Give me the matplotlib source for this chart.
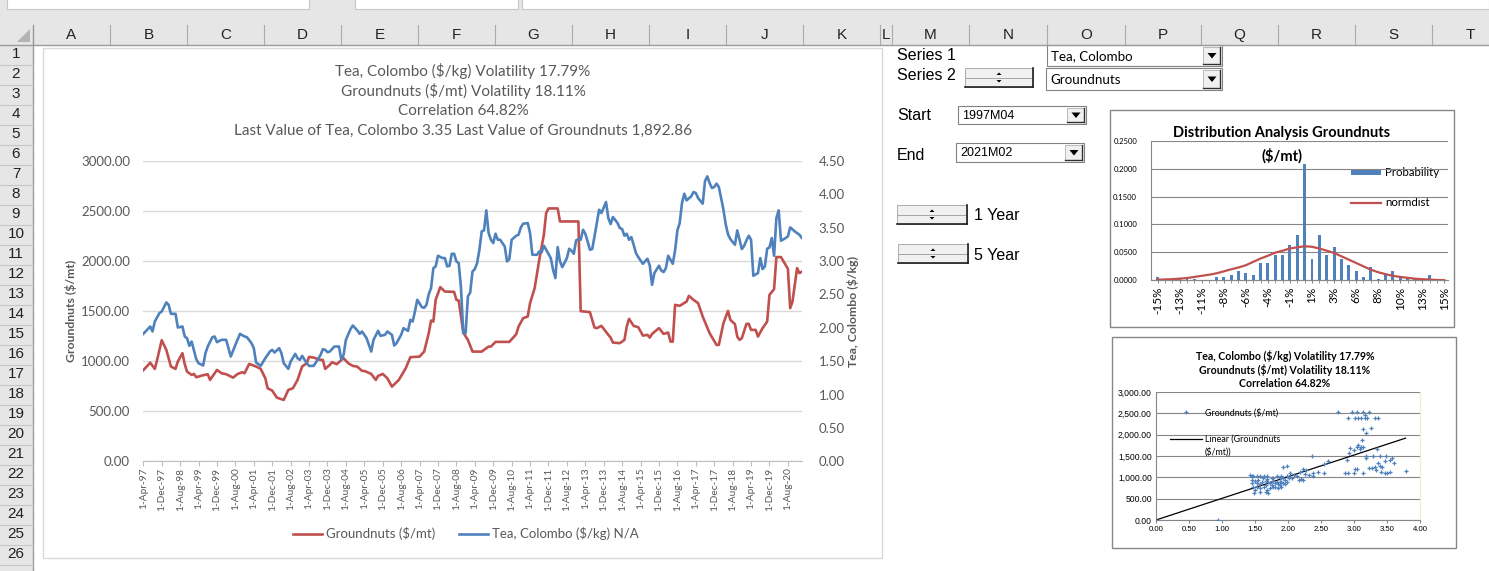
import numpy as np
import pandas as pd
import matplotlib
matplotlib.use('Agg')
import matplotlib.pyplot as plt
from matplotlib.patches import Rectangle, Polygon

W, H = 1489, 571
CAL = ['Lato', 'DejaVu Sans']
ARIAL = ['Liberation Sans', 'DejaVu Sans']
GTXT = '#595959'
RED = '#c0504d'
BLUE = '#4f81bd'

# ---- main chart (months after 1-Apr-1997) ----
gn_month = [0, 3, 5, 6, 8, 10, 12, 14, 15, 17, 18, 19, 21, 22, 23, 26, 28, 29, 30, 32,
            34, 36, 39, 41, 43, 44, 46, 49, 51, 53, 54, 56, 58, 61, 63, 65, 67, 69, 71, 72,
            74, 77, 78, 79, 81, 82, 84, 87, 89, 91, 93, 95, 96, 99, 101, 102, 104, 106, 108, 111,
            113, 114, 116, 120, 122, 124, 125, 126, 127, 129, 131, 135, 136, 137, 139, 141, 143, 147, 150, 151,
            153, 159, 162, 163, 165, 167, 168, 170, 172, 174, 175, 176, 180, 181, 189, 190, 194, 196, 197, 199,
            202, 203, 204, 207, 209, 210, 211, 213, 215, 217, 219, 220, 221, 224, 226, 228, 229, 230, 231, 233,
            236, 237, 239, 241, 243, 246, 249, 250, 252, 254, 255, 257, 258, 259, 260, 262, 263, 264, 266, 267,
            269, 271, 272, 274, 275, 277, 280, 281, 282, 284, 285, 286]
gn_value = [910, 985, 923, 1013, 1210, 1113, 947, 923, 997, 1080, 970, 896, 863, 873, 840, 860, 870, 813, 846, 913,
            880, 870, 836, 873, 890, 880, 973, 947, 923, 830, 730, 706, 636, 613, 713, 730, 813, 947, 980, 1043,
            1036, 1013, 1013, 923, 963, 990, 970, 1030, 980, 953, 945, 903, 903, 873, 813, 853, 873, 830, 746, 813,
            890, 930, 1040, 1046, 1096, 1280, 1406, 1396, 1613, 1740, 1696, 1693, 1613, 1606, 1286, 1213, 1096, 1096, 1146, 1146,
            1193, 1193, 1270, 1346, 1430, 1446, 1580, 1730, 2013, 2263, 2480, 2526, 2526, 2396, 2396, 1500, 1490, 1336, 1330, 1353,
            1263, 1236, 1186, 1180, 1213, 1346, 1423, 1353, 1340, 1256, 1263, 1236, 1273, 1330, 1273, 1286, 1196, 1196, 1563, 1553,
            1596, 1653, 1613, 1580, 1446, 1280, 1163, 1163, 1380, 1503, 1413, 1370, 1246, 1213, 1230, 1373, 1373, 1313, 1313, 1246,
            1330, 1396, 1663, 1720, 2040, 2040, 1923, 1530, 1596, 1930, 1880, 1893]

tea_month = [0, 3, 4, 5, 7, 8, 10, 11, 12, 14, 15, 17, 18, 19, 20, 21, 23, 24, 26, 27,
             28, 30, 31, 32, 34, 36, 38, 40, 42, 44, 45, 47, 48, 49, 51, 53, 55, 56, 57, 59,
             60, 61, 63, 64, 66, 67, 68, 69, 71, 72, 74, 76, 77, 78, 79, 80, 81, 83, 85, 86,
             87, 88, 90, 91, 93, 94, 95, 97, 99, 100, 102, 103, 105, 106, 108, 109, 110, 112, 113, 115,
             116, 117, 118, 119, 121, 122, 123, 124, 125, 126, 127, 128, 130, 131, 132, 133, 134, 135, 136, 137,
             138, 139, 140, 141, 142, 143, 144, 145, 146, 147, 148, 149, 150, 151, 152, 153, 154, 155, 157, 158,
             159, 160, 162, 163, 164, 165, 167, 168, 169, 171, 172, 173, 174, 175, 177, 178, 179, 180, 181, 182,
             184, 185, 186, 187, 188, 189, 190, 191, 192, 193, 194, 195, 196, 198, 199, 201, 202, 203, 204, 206,
             207, 208, 209, 210, 211, 212, 213, 214, 215, 217, 219, 220, 221, 222, 224, 225, 226, 227, 228, 230,
             231, 232, 233, 234, 235, 236, 238, 239, 240, 241, 243, 244, 245, 246, 247, 248, 249, 250, 251, 252,
             253, 254, 255, 257, 258, 259, 260, 261, 262, 263, 264, 265, 267, 268, 269, 270, 271, 272, 273, 274,
             275, 276, 277, 279, 280, 281, 283, 285, 286]
tea_value = [1.91, 2.02, 1.945, 2.095, 2.22, 2.245, 2.38, 2.345, 2.21, 2.21, 2.005, 2.02, 1.87, 1.845, 1.73, 1.795, 1.53, 1.47, 1.435, 1.62,
             1.72, 1.86, 1.87, 1.785, 1.82, 1.82, 1.57, 1.745, 1.91, 1.87, 1.86, 1.77, 1.695, 1.48, 1.43, 1.545, 1.645, 1.67, 1.63, 1.695,
             1.62, 1.47, 1.385, 1.495, 1.61, 1.545, 1.52, 1.58, 1.47, 1.43, 1.43, 1.535, 1.595, 1.68, 1.67, 1.635, 1.645, 1.72, 1.72, 1.52,
             1.595, 1.82, 1.98, 2.035, 1.96, 1.91, 1.945, 1.845, 1.645, 1.82, 1.955, 1.88, 1.895, 1.945, 1.895, 1.735, 1.77, 1.895, 1.995, 1.955,
             2.12, 2.095, 2.245, 2.42, 2.31, 2.30, 2.345, 2.505, 2.595, 2.895, 2.92, 3.08, 3.045, 3.045, 2.92, 2.93, 3.11, 3.11, 2.995, 2.97,
             2.6, 1.92, 1.92, 2.47, 2.53, 2.845, 2.88, 2.97, 3.17, 3.445, 3.46, 3.76, 3.42, 3.32, 3.27, 3.41, 3.32, 3.32, 3.22, 2.995,
             3.03, 3.32, 3.38, 3.395, 3.505, 3.56, 3.57, 3.42, 3.095, 3.095, 3.145, 3.13, 3.23, 3.17, 3.045, 2.87, 2.745, 3.21, 2.995, 2.91,
             3.045, 3.185, 3.155, 3.11, 3.31, 3.33, 3.32, 3.47, 3.41, 3.295, 3.17, 3.18, 3.37, 3.77, 3.72, 3.885, 3.645, 3.555, 3.66, 3.57,
             3.495, 3.48, 3.38, 3.41, 3.32, 3.36, 3.245, 3.12, 3.06, 2.96, 3.035, 2.935, 2.645, 2.82, 2.93, 2.86, 2.835, 2.895, 3.08, 2.96,
             3.16, 3.46, 3.57, 3.87, 4.01, 3.91, 3.97, 4.035, 4.02, 3.945, 3.86, 4.20, 4.27, 4.17, 4.095, 4.11, 4.16, 4.11, 3.945, 3.77,
             3.55, 3.40, 3.33, 3.245, 3.46, 3.32, 3.18, 3.23, 3.31, 3.38, 3.32, 2.78, 2.82, 3.045, 2.88, 2.92, 3.185, 3.205, 3.345, 3.08,
             3.645, 3.76, 3.305, 3.345, 3.37, 3.505, 3.445, 3.395, 3.35]

title_lines = ['Tea, Colombo ($/kg) Volatility 17.79%',
               'Groundnuts ($/mt) Volatility 18.11%',
               'Correlation 64.82%',
               'Last Value of Tea, Colombo 3.35 Last Value of Groundnuts 1,892.86']

tick_dates = pd.date_range('1997-04-01', '2020-08-01', freq='8MS')
tick_labels = ['1-' + d.strftime('%b-%y') for d in tick_dates]
tick_pos = [(d.year - 1997) * 12 + d.month - 4 for d in tick_dates]

# ---- distribution chart ----
bin_labels = ['-15%', '-13%', '-11%', '-8%', '-6%', '-4%', '-1%',
              '1%', '3%', '6%', '8%', '10%', '13%', '15%']
probability = [0.0054, 0, 0, 0.002, 0.003, 0.003, 0, 0, 0.006, 0.006,
               0.010, 0.017, 0.013, 0.010, 0.031, 0.031, 0.045, 0.045, 0.063, 0.081,
               0.209, 0.038, 0.081, 0.045, 0.060, 0.038, 0.027, 0.017, 0.006, 0.024,
               0.003, 0.010, 0.017, 0.006, 0.006, 0.003, 0, 0.010, 0.003, 0]
normdist = [0.001, 0.0015, 0.002, 0.003, 0.004, 0.006, 0.008, 0.010, 0.0125, 0.016,
            0.0197, 0.023, 0.027, 0.033, 0.039, 0.044, 0.0495, 0.053, 0.057, 0.059,
            0.061, 0.060, 0.057, 0.053, 0.049, 0.043, 0.037, 0.031, 0.025, 0.019,
            0.0145, 0.011, 0.008, 0.006, 0.0045, 0.0028, 0.002, 0.0012, 0.0006, 0.0002]

# ---- scatter chart ----
sc_tea = [2.76, 2.97, 3.04, 3.13, 3.22, 2.91, 3.01, 3.06, 3.11, 3.16, 3.19, 3.32, 3.37, 3.16,
          3.14, 3.18, 3.25, 3.12, 2.94, 2.93, 3.00, 3.06, 3.10, 3.14, 3.09, 3.04,
          3.35, 3.18, 3.18, 3.29, 3.39, 3.48, 3.57, 3.55, 3.60, 3.47, 3.37, 3.39, 3.43, 3.32,
          3.27, 3.22, 3.34, 3.41, 3.50, 3.55, 3.47, 3.79, 3.14, 3.01, 3.05, 3.00, 2.86, 2.91, 2.90,
          2.37, 2.61, 2.55, 2.38, 2.55, 2.46, 2.28, 2.23, 2.18, 2.25, 2.32, 2.38, 2.13, 2.23, 2.20,
          2.06, 2.03, 1.93, 1.99, 2.09, 2.16,
          1.42, 1.45, 1.47, 1.53, 1.58, 1.63, 1.68, 1.45, 1.45, 1.47, 1.50, 1.48, 1.53, 1.57,
          1.60, 1.63, 1.58, 1.66, 1.68, 1.70, 1.73, 1.73, 1.75, 1.78, 1.80, 1.83, 1.85, 1.88,
          1.90, 1.90, 1.93, 1.95, 1.98, 2.01, 1.98, 1.88, 1.90, 1.83, 1.78, 1.70, 1.66, 1.55,
          1.50, 1.62, 1.68, 1.75, 1.80, 1.85, 1.66, 1.88, 1.93, 1.95, 1.78, 1.53, 1.58,
          0.0, 0.94]
sc_gn = [2530, 2530, 2530, 2530, 2530, 2390, 2390, 2390, 2390, 2390, 2390, 2390, 2390, 2470,
         2140, 2040, 2150, 1880, 1680, 1580, 1630, 1760, 1720, 1710, 1670, 1710,
         1660, 1500, 1450, 1500, 1500, 1500, 1450, 1410, 1330, 1390, 1330, 1270, 1250, 1240,
         1210, 1210, 1170, 1135, 1100, 1135, 1100, 1150, 1100, 1190, 1190, 1100, 1100, 1100, 1410,
         1490, 1390, 1320, 1100, 1100, 1135, 1170, 1190, 1135, 1080, 1060, 1030, 1020, 940, 955,
         980, 1100, 1240, 1270, 1060, 940,
         1060, 1020, 1020, 1020, 1020, 1020, 1020, 940, 860, 780, 705, 625, 860, 845,
         900, 780, 745, 820, 705, 625, 745, 860, 980, 980, 860, 900, 845, 820,
         780, 900, 860, 940, 900, 980, 1020, 980, 1030, 1020, 920, 900, 920, 940,
         920, 980, 955, 820, 780, 745, 665, 900, 980, 845, 780, 780, 665,
         0, 0]
trend_x = [0.0, 3.78]
trend_y = [0, 1918]
sc_title = ['Tea, Colombo ($/kg) Volatility 17.79%',
            'Groundnuts ($/mt) Volatility 18.11%',
            'Correlation 64.82%']

col_names = list('ABCDEFGHIJKLMNOPQRST')
col_edges = [33, 110, 187, 264, 341, 418, 495, 572, 649, 726, 803, 880,
             892, 969, 1047, 1125, 1201, 1278, 1355, 1432, 1509]


fig = plt.figure(figsize=(W / 100, H / 100), dpi=100)
bg = fig.add_axes([0, 0, 1, 1])
bg.set_xlim(0, W)
bg.set_ylim(H, 0)
bg.axis('off')


def px_axes(x0, y0, x1, y1):
    a = fig.add_axes([x0 / W, 1 - y1 / H, (x1 - x0) / W, (y1 - y0) / H])
    a.patch.set_alpha(0)
    return a


def rect(x0, y0, x1, y1, **kw):
    bg.add_patch(Rectangle((x0, y0), x1 - x0, y1 - y0, **kw))


# ---- excel frame ----
rect(0, 0, W, 44.5, fc='#e6e6e6', ec='none')
rect(0, 44.5, 33, H, fc='#e6e6e6', ec='none')
for a, b in [(7, 309), (355, 518), (522, 1489)]:
    rect(a, -2, b, 9, fc='white', ec='#c6c6c6', lw=0.8)
for x in col_edges:
    bg.plot([x, x], [25, 44.5], color='#ababab', lw=0.8)
for i, name in enumerate(col_names):
    bg.text((col_edges[i] + col_edges[i + 1]) / 2, 35, name, ha='center', va='center',
            fontsize=11, family=ARIAL, color='#222222')
bg.plot([0, W], [44.5, 44.5], color='#9b9b9b', lw=1)
bg.plot([33, 33], [25, H], color='#9b9b9b', lw=1)
bg.add_patch(Polygon([(30, 29), (30, 42), (17, 42)], closed=True, fc='#b4b4b4', ec='none'))
for r in range(1, 28):
    y = 44.5 + 20 * r
    bg.plot([0, 33], [y, y], color='#c6c6c6', lw=0.8)
    if r < 27:
        bg.text(16, y - 10, str(r), ha='center', va='center', fontsize=11, family=ARIAL, color='#222222')

# ---- main chart ----
rect(43, 48, 882, 558, fc='white', ec='#d9d9d9', lw=1)
for i, t in enumerate(title_lines):
    bg.text(463, 71 + 20 * i, t, ha='center', va='center', fontsize=11, family=CAL, color=GTXT)

ax1 = px_axes(143.3, 161, 801.7, 461.3)
ax1.plot(gn_month, gn_value, color=RED, lw=1.9, label='Groundnuts ($/mt)')
ax1.set_xlim(0, 286)
ax1.set_ylim(0, 3000)
ax1.set_yticks(np.arange(0, 3001, 500))
ax1.set_yticklabels(['%.2f' % v for v in np.arange(0, 3001, 500)])
ax1.set_xticks(tick_pos)
ax1.set_xticklabels(tick_labels, rotation=90)
ax1.grid(axis='y', color='#d9d9d9', lw=1)
ax1.set_axisbelow(True)
for s in ['top', 'right', 'left']:
    ax1.spines[s].set_visible(False)
ax1.spines['bottom'].set_color('#bfbfbf')
ax1.tick_params(axis='y', length=0, pad=9.5, labelsize=9.5, labelcolor=GTXT)
ax1.tick_params(axis='x', length=3.5, color='#bfbfbf', pad=1, labelsize=7.3, labelcolor=GTXT)
for lab in ax1.get_xticklabels() + ax1.get_yticklabels():
    lab.set_family(CAL)

ax2 = ax1.twinx()
ax2.plot(tea_month, tea_value, color=BLUE, lw=1.9, label='Tea, Colombo ($/kg) N/A')
ax2.set_ylim(0, 4.5)
ax2.set_yticks(np.arange(0, 4.51, 0.5))
ax2.set_yticklabels(['%.2f' % v for v in np.arange(0, 4.51, 0.5)])
for s in ['top', 'right', 'left', 'bottom']:
    ax2.spines[s].set_visible(False)
ax2.tick_params(axis='y', length=0, pad=12, labelsize=9.5, labelcolor=GTXT)
for lab in ax2.get_yticklabels():
    lab.set_family(CAL)

bg.text(71, 311, 'Groundnuts ($/mt)', rotation=90, ha='center', va='center',
        fontsize=8.8, fontweight='bold', family=CAL, color=GTXT)
bg.text(853, 311, 'Tea, Colombo ($/kg)', rotation=90, ha='center', va='center',
        fontsize=8.8, fontweight='bold', family=CAL, color=GTXT)

h1, l1 = ax1.get_legend_handles_labels()
h2, l2 = ax2.get_legend_handles_labels()
leg = fig.legend(h1 + h2, l1 + l2, loc='center', bbox_to_anchor=(466 / W, 1 - 534 / H),
                 ncol=2, frameon=False, handlelength=2.2, columnspacing=1.8, handletextpad=0.3,
                 prop={'family': CAL, 'size': 9.5})
for t in leg.get_texts():
    t.set_color(GTXT)

# ---- controls ----
def spinner(x0, y0, x1, y1):
    ym = (y0 + y1) / 2
    rect(x0, y0, x1, ym, fc='#f0f0f0', ec='#a0a0a0', lw=0.6)
    rect(x0, ym, x1, y1, fc='#f0f0f0', ec='#a0a0a0', lw=0.6)
    bg.plot([x0, x1], [y1, y1], color='#202020', lw=1.2)
    bg.plot([x1, x1], [y0, y1], color='#202020', lw=1.2)
    cx = (x0 + x1) / 2
    bg.add_patch(Polygon([(cx - 2.5, ym - 2.5), (cx + 2.5, ym - 2.5), (cx, ym - 5)], fc='black', ec='none'))
    bg.add_patch(Polygon([(cx - 2.5, ym + 2.5), (cx + 2.5, ym + 2.5), (cx, ym + 5)], fc='black', ec='none'))


def dropdown(x0, y0, x1, y1, text, fam, size):
    rect(x0, y0, x1, y1, fc='white', ec='#828282', lw=0.8)
    b0 = x1 - 20
    rect(b0 + 1, y0 + 2, x1 - 2, y1 - 2, fc='#f0f0f0', ec='#b0b0b0', lw=0.6)
    bg.plot([b0 + 1, x1 - 2], [y1 - 2, y1 - 2], color='#303030', lw=1)
    bg.plot([x1 - 2, x1 - 2], [y0 + 2, y1 - 2], color='#303030', lw=1)
    cx, cy = (b0 + x1) / 2, (y0 + y1) / 2
    bg.add_patch(Polygon([(cx - 4.5, cy - 2.5), (cx + 4.5, cy - 2.5), (cx, cy + 3)], fc='black', ec='none'))
    bg.text(x0 + 4, cy + 1, text, ha='left', va='center', fontsize=size, family=fam, color='black')


bg.text(897, 56, 'Series 1', ha='left', va='center', fontsize=11.5, family=ARIAL)
bg.text(897, 76, 'Series 2', ha='left', va='center', fontsize=11.5, family=ARIAL)
spinner(965, 68, 1033, 87)
dropdown(1047, 45, 1222, 66, 'Tea, Colombo', CAL, 9.6)
dropdown(1046, 68, 1222, 90, 'Groundnuts', CAL, 9.6)
bg.text(897, 116, 'Start', ha='left', va='center', fontsize=11.5, family=ARIAL)
dropdown(958, 106, 1086, 124, '1997M04', ARIAL, 9)
bg.text(897, 155, 'End', ha='left', va='center', fontsize=11.5, family=ARIAL)
dropdown(956, 143, 1084, 162, '2021M02', ARIAL, 9)
spinner(897, 205, 967, 224)
bg.text(974, 215, '1 Year', ha='left', va='center', fontsize=11.5, family=ARIAL)
spinner(898, 244, 968, 263)
bg.text(974, 255, '5 Year', ha='left', va='center', fontsize=11.5, family=ARIAL)

# ---- distribution chart ----
rect(1110, 110, 1454, 327, fc='white', ec='#868686', lw=1)
hx = px_axes(1151, 140.7, 1448, 280.3)
idx = np.arange(len(probability))
hx.bar(idx, probability, width=0.4, color=BLUE, zorder=2)
hx.plot(idx, normdist, color=RED, lw=1.6, zorder=3)
hx.set_xlim(-0.9, 39.5)
hx.set_ylim(0, 0.25)
hx.set_yticks(np.arange(0, 0.251, 0.05))
hx.set_yticklabels(['%.4f' % v for v in np.arange(0, 0.251, 0.05)])
hx.set_xticks(idx[::3])
hx.set_xticklabels(bin_labels, rotation=90)
hx.set_xticks(idx, minor=True)
hx.grid(axis='y', color='#868686', lw=0.8)
hx.set_axisbelow(True)
for s in ['top', 'right']:
    hx.spines[s].set_visible(False)
for s in ['left', 'bottom']:
    hx.spines[s].set_color('#868686')
hx.tick_params(axis='y', length=0, pad=10, labelsize=5.5, labelcolor='black')
hx.tick_params(axis='x', which='both', length=2.5, color='#868686', pad=2, labelsize=8.5)
for lab in hx.get_xticklabels() + hx.get_yticklabels():
    lab.set_family(CAL)
bg.text(1282, 133, 'Distribution Analysis Groundnuts', ha='center', va='center',
        fontsize=10.5, fontweight='bold', family=CAL)
bg.text(1282, 156, '($/mt)', ha='center', va='center', fontsize=10.5, fontweight='bold', family=CAL)
rect(1351, 169, 1381, 175, fc=BLUE, ec='none')
bg.text(1385, 172, 'Probability', ha='left', va='center', fontsize=8.3, family=CAL)
bg.plot([1351, 1381], [203, 203], color=RED, lw=1.6)
bg.text(1385, 203, 'normdist', ha='left', va='center', fontsize=8.3, family=CAL)

# ---- scatter chart ----
rect(1112, 337, 1456, 548, fc='white', ec='#868686', lw=1)
for i, t in enumerate(sc_title):
    bg.text(1285, 356 + 13.7 * i, t, ha='center', va='center', fontsize=7.6,
            fontweight='bold', family=CAL)
sx = px_axes(1156, 392, 1420, 520)
sx.plot(sc_tea, sc_gn, '+', color=BLUE, ms=3.2, mew=0.9, zorder=3)
sx.plot(trend_x, trend_y, color='black', lw=0.9, zorder=2)
sx.set_xlim(0, 4)
sx.set_ylim(0, 3000)
sx.set_xticks(np.arange(0, 4.01, 0.5))
sx.set_xticklabels(['%.2f' % v for v in np.arange(0, 4.01, 0.5)])
sx.set_yticks(np.arange(0, 3001, 500))
sx.set_yticklabels(['{:,.2f}'.format(v) for v in np.arange(0, 3001, 500)])
sx.grid(axis='y', color='#868686', lw=0.8)
sx.set_axisbelow(True)
sx.spines['top'].set_visible(False)
sx.spines['right'].set_color('#eeeec4')
for s in ['left', 'bottom']:
    sx.spines[s].set_color('#868686')
sx.tick_params(axis='y', length=0, pad=3, labelsize=6.2)
sx.tick_params(axis='x', length=2, color='#868686', pad=2, labelsize=5.6)
for lab in sx.get_xticklabels() + sx.get_yticklabels():
    lab.set_family(ARIAL)
sx.plot([0.45], [2520], '+', color=BLUE, ms=3.2, mew=0.9)
sx.text(0.74, 2520, 'Groundnuts ($/mt)', ha='left', va='center', fontsize=6.4, family=CAL)
sx.plot([0.21, 0.69], [1895, 1895], color='black', lw=0.9)
sx.text(0.74, 1895, 'Linear (Groundnuts', ha='left', va='center', fontsize=6.4, family=CAL)
sx.text(0.74, 1605, '($/mt))', ha='left', va='center', fontsize=6.4, family=CAL)

fig.savefig('out.png', dpi=100)
